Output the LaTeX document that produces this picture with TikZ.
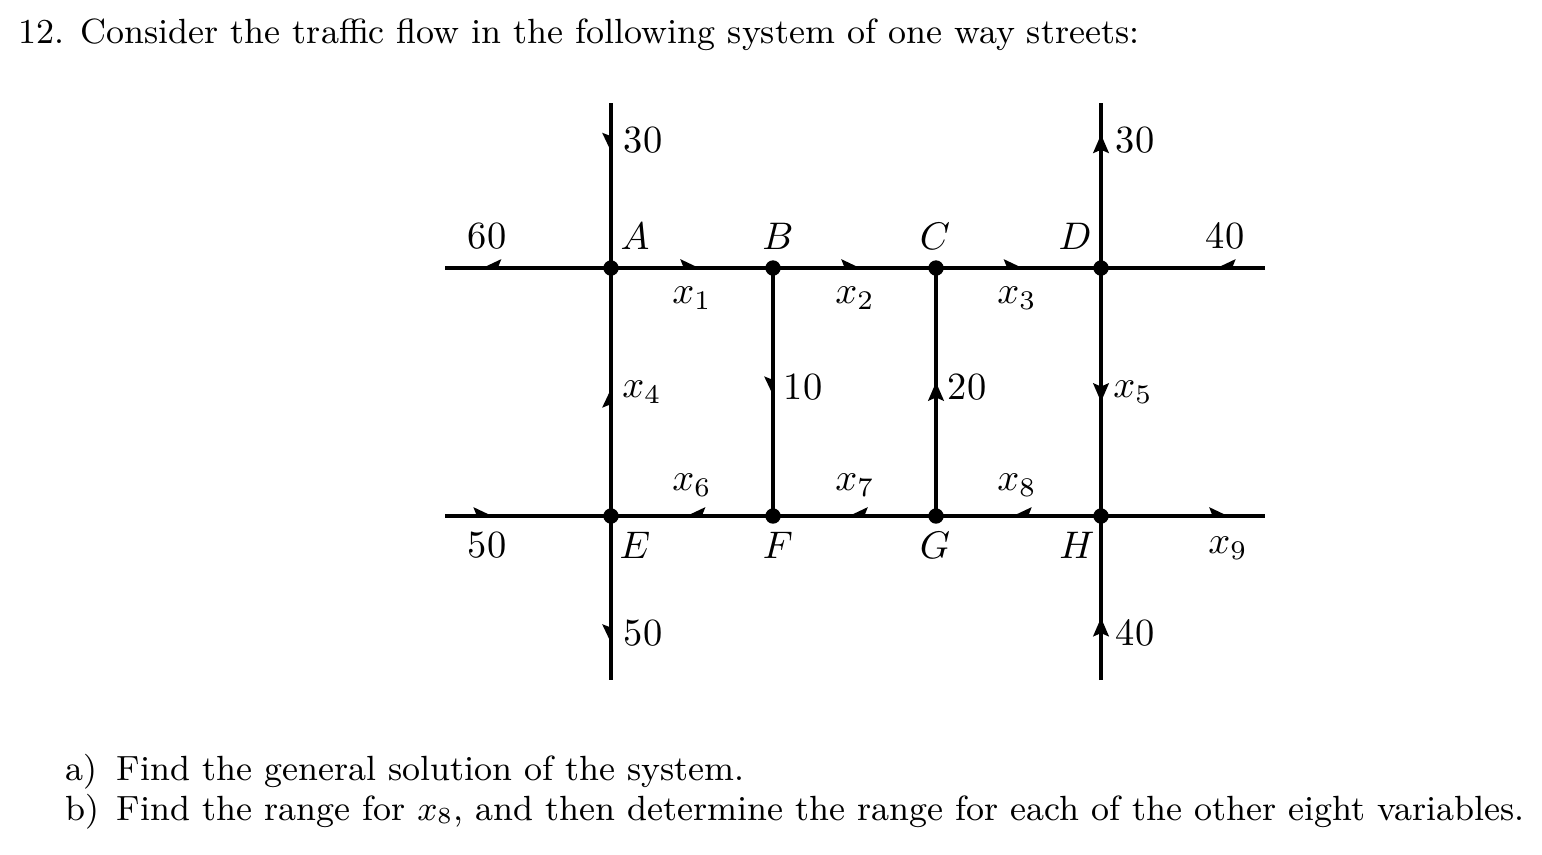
\documentclass[tikz,border=0pt]{standalone}
\usetikzlibrary{arrows.meta,decorations.markings}
\tikzset{
  road/.style={line width=1pt},
  tipL/.style={postaction={decorate},decoration={markings,mark=at position #1 with {\arrow{Stealth[harpoon,length=4.8pt,width=4.4pt,inset=0.8pt]}}}},
  tipR/.style={postaction={decorate},decoration={markings,mark=at position #1 with {\arrow{Stealth[harpoon,swap,length=4.8pt,width=4.4pt,inset=0.8pt]}}}},
  tipF/.style={postaction={decorate},decoration={markings,mark=at position #1 with {\arrow{Stealth[length=4.8pt,width=4pt,inset=0.8pt]}}}},
  junction/.style={circle,fill,inner sep=0pt,minimum size=4pt},
  lab/.style={inner sep=0pt},
  txt/.style={inner sep=0pt,anchor=base west,font=\fontsize{9.1}{11}\selectfont}
}
\begin{document}
\begin{tikzpicture}[x=0.26pt,y=-0.26pt]
\useasboundingbox (0,0) rectangle (1542,854);
% junctions
\node[junction] (A) at (611,268) {};
\node[junction] (B) at (773,268) {};
\node[junction] (C) at (936,268) {};
\node[junction] (D) at (1101,268) {};
\node[junction] (E) at (611,516) {};
\node[junction] (F) at (773,516) {};
\node[junction] (G) at (936,516) {};
\node[junction] (H) at (1101,516) {};
% free ends
\coordinate (L1) at (445,268);
\coordinate (R1) at (1265,268);
\coordinate (L2) at (445,516);
\coordinate (R2) at (1265,516);
\coordinate (T1) at (611,103);
\coordinate (T2) at (1101,103);
\coordinate (B1) at (611,680);
\coordinate (B2) at (1101,680);
% top street
\draw[road,tipR=0.80] (A.center) -- (L1);
\draw[road,tipL=0.57] (A.center) -- (B.center);
\draw[road,tipL=0.56] (B.center) -- (C.center);
\draw[road,tipL=0.55] (C.center) -- (D.center);
\draw[road,tipR=0.32] (R1) -- (D.center);
% bottom street
\draw[road,tipL=0.31] (L2) -- (E.center);
\draw[road,tipR=0.56] (F.center) -- (E.center);
\draw[road,tipR=0.56] (G.center) -- (F.center);
\draw[road,tipR=0.56] (H.center) -- (G.center);
\draw[road,tipL=0.80] (H.center) -- (R2);
% verticals
\draw[road,tipR=0.32] (T1) -- (A.center);
\draw[road,tipL=0.53] (E.center) -- (A.center);
\draw[road,tipR=0.80] (E.center) -- (B1);
\draw[road,tipR=0.53] (B.center) -- (F.center);
\draw[road,tipF=0.54] (G.center) -- (C.center);
\draw[road,tipF=0.81] (D.center) -- (T2);
\draw[road,tipF=0.54] (D.center) -- (H.center);
\draw[road,tipF=0.38] (B2) -- (H.center);
% labels
\node[lab] (l30a) at (643,140) {30};
\node[lab] (l30b) at (1135,140) {30};
\node[lab] (l60) at (487,236) {60};
\node[lab] (lA) at (635,236) {$A$};
\node[lab] (lB) at (778,236) {$B$};
\node[lab] (lC) at (935,236) {$C$};
\node[lab] (lD) at (1075,236) {$D$};
\node[lab] (l40a) at (1225,236) {40};
\node[lab] (lx1) at (692,298) {$x_1$};
\node[lab] (lx2) at (855,298) {$x_2$};
\node[lab] (lx3) at (1017,298) {$x_3$};
\node[lab] (lx4) at (642,392) {$x_4$};
\node[lab] (l10) at (803,387) {10};
\node[lab] (l20) at (967,387) {20};
\node[lab] (lx5) at (1133,392) {$x_5$};
\node[lab] (lx6) at (692,485) {$x_6$};
\node[lab] (lx7) at (855,485) {$x_7$};
\node[lab] (lx8) at (1017,485) {$x_8$};
\node[lab] (l50a) at (487,545) {50};
\node[lab] (lE) at (635,545) {$E$};
\node[lab] (lF) at (778,545) {$F$};
\node[lab] (lG) at (935,545) {$G$};
\node[lab] (lH) at (1077,545) {$H$};
\node[lab] (lx9) at (1228,548) {$x_9$};
\node[lab] (l50b) at (643,633) {50};
\node[lab] (l40b) at (1135,633) {40};
% texts
\node[txt] (num) at (18,43) {12.};
\node[txt] (title) at (80,43) {Consider the traffic flow in the following system of one way streets:};
\node[txt] (ia) at (65,780) {a)};
\node[txt] (ta) at (116,780) {Find the general solution of the system.};
\node[txt] (ib) at (65,820) {b)};
\node[txt] (tb) at (116,820) {Find the range for $x_8$, and then determine the range for each of the other eight variables.};
\end{tikzpicture}
\end{document}
